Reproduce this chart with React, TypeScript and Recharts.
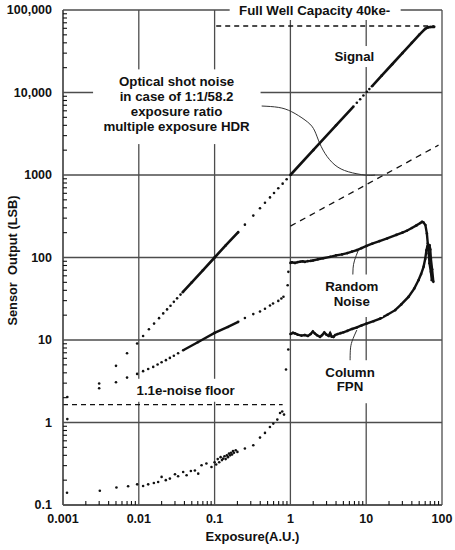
import React from "react";
import {
  CartesianGrid,
  ComposedChart,
  Label,
  Line,
  ReferenceDot,
  ReferenceLine,
  Scatter,
  XAxis,
  YAxis,
} from "recharts";

// Log–log sensor output vs exposure.

type Pt = [number, number];

const X_TICKS = [0.001, 0.01, 0.1, 1, 10, 100];
const X_TICK_LABELS = ["0.001", "0.01", "0.1", "1", "10", "100"];
const Y_TICKS = [0.1, 1, 10, 100, 1000, 10000, 100000];
const Y_TICK_LABELS = ["0.1", "1", "10", "100", "1000", "10,000", "100,000"];
const MINOR_STEPS = [2, 3, 4, 5, 6, 7, 8, 9];
const X_MINOR = X_TICKS.slice(0, -1).flatMap((d) => MINOR_STEPS.map((m) => d * m));
const Y_MINOR = Y_TICKS.slice(0, -1).flatMap((d) => MINOR_STEPS.map((m) => d * m));
const X_ALL_TICKS = [...X_TICKS, ...X_MINOR].sort((a, b) => a - b);
const Y_ALL_TICKS = [...Y_TICKS, ...Y_MINOR].sort((a, b) => a - b);

// Signal: sparse dots and dense (solid-looking) runs
const SIGNAL_SPARSE: Pt[] = [
  [0.00114, 2.04], [0.003, 2.97], [0.005, 4.86], [0.007, 6.9], [0.0095, 9.06],
  [0.0114, 11.2], [0.0136, 13.5], [0.0159, 15.8], [0.0185, 18.4], [0.021, 21],
  [0.0236, 23.5], [0.0262, 26], [0.029, 29], [0.032, 32], [0.0355, 35.5],
  [0.251, 250], [0.324, 322], [0.397, 395], [0.462, 460], [0.538, 535],
  [0.608, 605], [0.692, 690], [0.79, 785], [0.892, 890],
  [7.52, 7500], [8.32, 8300], [9.19, 9200], [10.2, 10200], [11.0, 11000],
];
const SIGNAL_RUN_A: Pt[] = [[0.038, 38], [0.05, 50], [0.07, 70], [0.1, 100], [0.14, 140], [0.205, 203]];
const SIGNAL_RUN_B: Pt[] = [[1.0, 1000], [2.0, 2000], [4.0, 4000], [6.78, 6750]];
const SIGNAL_RUN_C: Pt[] = [
  [11.9, 11900], [16, 16000], [22, 22000], [30, 30000], [40, 40000], [50, 50000],
  [60, 59000], [65, 61500], [70, 62300], [79, 62500],
];

// Random noise
const NOISE_SPARSE: Pt[] = [
  [0.00114, 1.1], [0.003, 2.6], [0.005, 3.08], [0.007, 3.5], [0.0095, 3.88],
  [0.0114, 4.19], [0.0133, 4.45], [0.0155, 4.72], [0.0177, 5.05], [0.02, 5.38],
  [0.0228, 5.7], [0.0257, 6.07], [0.029, 6.45], [0.033, 6.9],
  [0.251, 18.5], [0.324, 20.6], [0.397, 22.2], [0.462, 23.9], [0.538, 26.2],
  [0.59, 27.7], [0.692, 29.8], [0.76, 31.8], [0.81, 33.5], [0.92, 46], [0.94, 67],
];
const NOISE_RUN_A: Pt[] = [[0.0385, 7.52], [0.06, 9.4], [0.1, 12.2], [0.15, 14.4], [0.205, 16.6]];
const NOISE_RUN_B: Pt[] = [
  [1.0, 86], [1.05, 87.5], [1.15, 86], [1.25, 88], [1.34, 88.7], [1.45, 90], [1.55, 88.5],
  [1.7, 90.5], [1.85, 91], [1.98, 92], [2.3, 95], [2.7, 98], [3.34, 101.8], [4.0, 106],
  [4.8, 109], [5.63, 113], [6.5, 118], [7.53, 123], [8.7, 130], [10.1, 138], [12, 147],
  [15, 158], [18.9, 170], [25, 188], [30, 200], [34.3, 211], [40, 228], [46, 245],
  [51.8, 262], [54.6, 271], [57, 266], [60.4, 247], [63.2, 195], [64.9, 148],
  [66.8, 112], [68.4, 85], [71.3, 67], [73.5, 53],
];

// Column FPN (and the dark floor below 1)
const FPN_SPARSE: Pt[] = [
  [0.00113, 0.141], [0.00306, 0.149], [0.00507, 0.163], [0.00723, 0.169], [0.00951, 0.178],
  [0.0114, 0.17], [0.0133, 0.178], [0.0158, 0.185], [0.018, 0.19], [0.02, 0.219],
  [0.0227, 0.2], [0.0257, 0.209], [0.03, 0.236], [0.033, 0.223], [0.0385, 0.251],
  [0.0427, 0.229], [0.0486, 0.258], [0.055, 0.262], [0.0608, 0.24], [0.0673, 0.303],
  [0.078, 0.318], [0.091, 0.289], [0.1, 0.33], [0.105, 0.31], [0.11, 0.36],
  [0.115, 0.33], [0.12, 0.38], [0.125, 0.35], [0.13, 0.365], [0.135, 0.39],
  [0.14, 0.36], [0.145, 0.4], [0.15, 0.38], [0.155, 0.42], [0.16, 0.4],
  [0.165, 0.43], [0.17, 0.41], [0.175, 0.45], [0.18, 0.43], [0.19, 0.46], [0.2, 0.44],
  [0.251, 0.483], [0.324, 0.53], [0.397, 0.656], [0.462, 0.748], [0.537, 0.883],
  [0.595, 0.97], [0.672, 1.084], [0.73, 1.306], [0.78, 1.36], [0.824, 1.247],
  [0.875, 4.39], [0.938, 7.67],
];
const FPN_RUN: Pt[] = [
  [1.0, 11.8], [1.08, 12.2], [1.15, 12.0], [1.25, 11.6], [1.4, 11.3], [1.55, 11.5],
  [1.7, 11.2], [1.85, 11.8], [1.98, 12.7], [2.1, 12.0], [2.25, 11.4], [2.46, 10.9],
  [2.6, 11.4], [2.8, 12.3], [3.0, 11.6], [3.2, 11.2], [3.34, 12.1], [3.5, 11.0],
  [3.7, 10.9], [3.9, 11.5], [4.2, 11.8], [4.6, 12.1], [5.0, 12.4], [5.63, 12.9],
  [6.5, 13.6], [7.53, 14.2], [8.7, 15.0], [10.1, 15.8], [12.5, 16.9], [15.3, 18.2],
  [19, 20.2], [24.1, 23], [29, 27], [36.1, 33.3], [43, 42], [48.9, 53], [53, 63],
  [57.1, 77], [60, 96], [62.4, 122.8], [64, 136], [66, 143], [68.4, 141], [70, 125],
  [71.3, 97], [74, 72], [76.9, 50.7],
];

// Dashed guides
const FULL_WELL: Pt[] = [[0.105, 64000], [79, 64000]];
const NOISE_FLOOR: Pt[] = [[0.001, 1.65], [0.79, 1.65]];
const SHOT_NOISE: Pt[] = [[1.0, 240], [90, 2300]];

// Thin leader curves
const ARC_LEADER: Pt[] = [
  [0.418, 6855], [0.692, 6605], [1.04, 5845], [1.56, 4634], [2.01, 3673], [2.34, 2650],
  [2.86, 1828], [3.88, 1318], [5.82, 1094], [9.66, 998], [13.1, 998],
];
const NOISE_LEADER: Pt[] = [[6.65, 59.4], [6.71, 74.3], [7.03, 92.9], [7.89, 122.8]];
const FPN_LEADER: Pt[] = [[6.13, 5.42], [6.18, 7.52], [6.51, 9.66], [7.52, 13.2]];

const toRows = (pts: Pt[]) => pts.map(([x, y]) => ({ x, y }));

const INK = "#111";
const GRID = "#4d4d4d";
const FONT = "'Liberation Sans', Arial, sans-serif";
const TICK_SIZE = 6;
const X_TICK_MARGIN = 3;
const Y_TICK_MARGIN = 5;
const MINOR_LEN = 4;

const Dot = (p: any) => <circle cx={p.cx} cy={p.cy} r={1.3} fill={INK} />;

const tickText = { fontSize: 12.5, fontWeight: "bold", fill: INK, fontFamily: FONT };

// Major ticks get a label; minor ticks get a short inward mark on the plot edge.
const XTick = (p: any) => {
  const v = p.payload?.value;
  const i = X_TICKS.indexOf(v);
  const edge = p.y - TICK_SIZE - X_TICK_MARGIN;
  if (i < 0) {
    return <line x1={p.x} x2={p.x} y1={edge} y2={edge - MINOR_LEN} stroke={INK} strokeWidth={1.1} />;
  }
  return (
    <text x={p.x} y={p.y} dy="0.71em" textAnchor="middle" {...tickText}>
      {X_TICK_LABELS[i]}
    </text>
  );
};

const YTick = (p: any) => {
  const v = p.payload?.value;
  const i = Y_TICKS.indexOf(v);
  const edge = p.x + TICK_SIZE + Y_TICK_MARGIN;
  if (i < 0) {
    return <line x1={edge} x2={edge + MINOR_LEN} y1={p.y} y2={p.y} stroke={INK} strokeWidth={1.1} />;
  }
  return (
    <text x={p.x} y={p.y} dy="0.355em" textAnchor="end" {...tickText}>
      {Y_TICK_LABELS[i]}
    </text>
  );
};

type Box = { dx: number; dy: number; w: number; h: number };

function boxLabel(lines: string[], box: Box, gap = 14.8) {
  return (props: any) => {
    const vb = props.viewBox;
    const cx = vb.x + (vb.width ?? 0) / 2;
    const cy = vb.y + (vb.height ?? 0) / 2;
    const first = -((lines.length - 1) * gap) / 2;
    return (
      <g>
        <rect x={cx + box.dx} y={cy + box.dy} width={box.w} height={box.h} fill="#fff" />
        {lines.map((t, i) => (
          <text
            key={i}
            x={cx}
            y={cy + first + i * gap}
            textAnchor="middle"
            dominantBaseline="central"
            fontFamily={FONT}
            fontWeight="bold"
            fontSize={13.3}
            fill={INK}
          >
            {t}
          </text>
        ))}
      </g>
    );
  };
}

const YTitle = (props: any) => {
  const vb = props.viewBox;
  const cx = vb.x + 12.5;
  const cy = vb.y + vb.height / 2 + 3;
  return (
    <text
      x={cx}
      y={cy}
      transform={`rotate(-90 ${cx} ${cy})`}
      textAnchor="middle"
      dominantBaseline="central"
      fontFamily={FONT}
      fontWeight="bold"
      fontSize={12.8}
      fill={INK}
      style={{ whiteSpace: "pre" }}
    >
      {"Sensor  Output (LSB)"}
    </text>
  );
};

const XTitle = (props: any) => {
  const vb = props.viewBox;
  return (
    <text
      x={vb.x + vb.width / 2}
      y={vb.y + 31}
      textAnchor="middle"
      dominantBaseline="central"
      fontFamily={FONT}
      fontWeight="bold"
      fontSize={13}
      fill={INK}
    >
      Exposure(A.U.)
    </text>
  );
};

export default function App() {
  return (
    <div style={{ position: "absolute", left: 0, top: 0, width: 455, height: 550, background: "#fff" }}>
      <ComposedChart width={455} height={550} margin={{ top: 10, right: 13, bottom: 0, left: 0 }}>
        <CartesianGrid stroke={GRID} strokeWidth={1.3} verticalValues={X_TICKS} horizontalValues={Y_TICKS} />
        <XAxis
          type="number"
          dataKey="x"
          scale="log"
          domain={[0.001, 100]}
          ticks={X_ALL_TICKS}
          interval={0}
          allowDataOverflow
          height={45}
          tickLine={false}
          tickSize={TICK_SIZE}
          tickMargin={X_TICK_MARGIN}
          axisLine={{ stroke: GRID, strokeWidth: 1.3 }}
          tick={XTick}
        >
          <Label content={XTitle} />
        </XAxis>
        <YAxis
          type="number"
          dataKey="y"
          scale="log"
          domain={[0.1, 100000]}
          ticks={Y_ALL_TICKS}
          interval={0}
          allowDataOverflow
          width={63}
          tickLine={false}
          tickSize={TICK_SIZE}
          tickMargin={Y_TICK_MARGIN}
          axisLine={{ stroke: GRID, strokeWidth: 1.3 }}
          tick={YTick}
        >
          <Label content={YTitle} />
        </YAxis>

        <ReferenceLine
          segment={FULL_WELL.map(([x, y]) => ({ x, y }))}
          stroke={INK}
          strokeWidth={1.3}
          strokeDasharray="5 4"
          ifOverflow="visible"
        />
        <ReferenceLine
          segment={NOISE_FLOOR.map(([x, y]) => ({ x, y }))}
          stroke={INK}
          strokeWidth={1.3}
          strokeDasharray="5 4"
          ifOverflow="visible"
        />
        <ReferenceLine
          segment={SHOT_NOISE.map(([x, y]) => ({ x, y }))}
          stroke={INK}
          strokeWidth={1.3}
          strokeDasharray="6 5"
          ifOverflow="visible"
        />

        <Line data={toRows(ARC_LEADER)} dataKey="y" type="natural" stroke="#333" strokeWidth={1} dot={false} activeDot={false} isAnimationActive={false} />
        <Line data={toRows(NOISE_LEADER)} dataKey="y" type="natural" stroke="#333" strokeWidth={1} dot={false} activeDot={false} isAnimationActive={false} />
        <Line data={toRows(FPN_LEADER)} dataKey="y" type="natural" stroke="#333" strokeWidth={1} dot={false} activeDot={false} isAnimationActive={false} />

        <Scatter data={toRows(SIGNAL_SPARSE)} dataKey="y" shape={Dot} isAnimationActive={false} />
        <Scatter data={toRows(SIGNAL_RUN_A)} dataKey="y" shape={Dot} line={{ stroke: INK, strokeWidth: 2.6 }} isAnimationActive={false} />
        <Scatter data={toRows(SIGNAL_RUN_B)} dataKey="y" shape={Dot} line={{ stroke: INK, strokeWidth: 2.6 }} isAnimationActive={false} />
        <Scatter data={toRows(SIGNAL_RUN_C)} dataKey="y" shape={Dot} line={{ stroke: INK, strokeWidth: 2.6 }} isAnimationActive={false} />
        <Scatter data={toRows(NOISE_SPARSE)} dataKey="y" shape={Dot} isAnimationActive={false} />
        <Scatter data={toRows(NOISE_RUN_A)} dataKey="y" shape={Dot} line={{ stroke: INK, strokeWidth: 2.4 }} isAnimationActive={false} />
        <Scatter data={toRows(NOISE_RUN_B)} dataKey="y" shape={Dot} line={{ stroke: INK, strokeWidth: 2.4 }} isAnimationActive={false} />
        <Scatter data={toRows(FPN_SPARSE)} dataKey="y" shape={Dot} isAnimationActive={false} />
        <Scatter data={toRows(FPN_RUN)} dataKey="y" shape={Dot} line={{ stroke: INK, strokeWidth: 2.4 }} isAnimationActive={false} />

        <ReferenceDot x={2.09} y={100000} r={0} fill="none" stroke="none" ifOverflow="visible">
          <Label content={boxLabel(["Full Well Capacity 40ke-"], { dx: -85, dy: -10, w: 171, h: 20 })} />
        </ReferenceDot>
        <ReferenceDot x={0.0315} y={7280} r={0} fill="none" stroke="none" ifOverflow="visible">
          <Label
            content={boxLabel(
              ["Optical shot noise", "in case of 1:1/58.2", "exposure ratio", "multiple exposure HDR"],
              { dx: -83.5, dy: -34.5, w: 167.5, h: 74.7 },
            )}
          />
        </ReferenceDot>
        <ReferenceDot x={6.98} y={27670} r={0} fill="none" stroke="none" ifOverflow="visible">
          <Label content={boxLabel(["Signal"], { dx: -25, dy: -10, w: 50, h: 21 })} />
        </ReferenceDot>
        <ReferenceDot x={6.46} y={36.1} r={0} fill="none" stroke="none" ifOverflow="visible">
          <Label content={boxLabel(["Random", "Noise"], { dx: -31, dy: -19.5, w: 62, h: 42.5 }, 15.6)} />
        </ReferenceDot>
        <ReferenceDot x={6.12} y={3.3} r={0} fill="none" stroke="none" ifOverflow="visible">
          <Label content={boxLabel(["Column", "FPN"], { dx: -29, dy: -19.5, w: 58, h: 43 }, 14.4)} />
        </ReferenceDot>
        <ReferenceDot x={0.0415} y={2.41} r={0} fill="none" stroke="none" ifOverflow="visible">
          <Label content={boxLabel(["1.1e-noise floor"], { dx: -52, dy: -12.2, w: 104, h: 23 })} />
        </ReferenceDot>
      </ComposedChart>
    </div>
  );
}
